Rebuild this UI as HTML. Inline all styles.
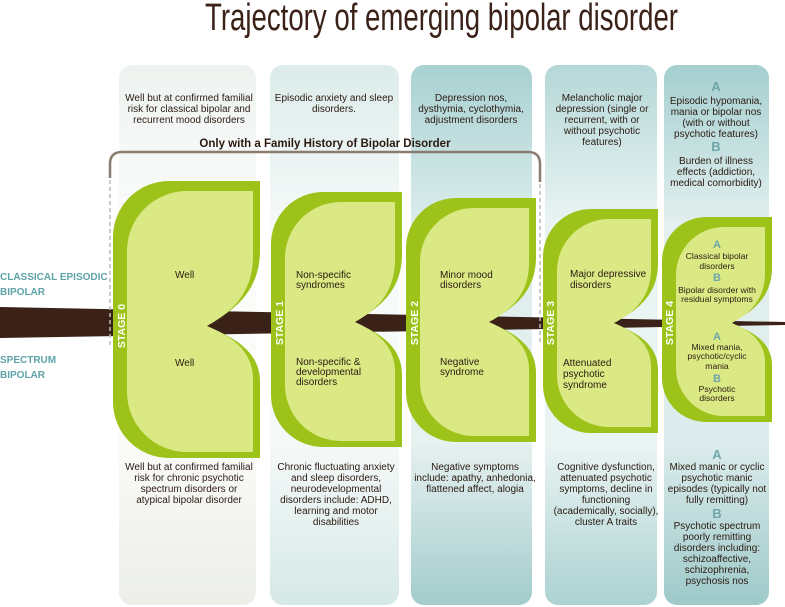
<!DOCTYPE html>
<html><head><meta charset="utf-8">
<style>
html,body{margin:0;padding:0;background:#fff;}
svg{display:block;}
text{font-family:"Liberation Sans Narrow","Liberation Sans",sans-serif;fill:#2a1a12;}
.t{font-size:10px;text-anchor:middle;}
.s{font-size:10px;}
.s4{font-size:8.6px;text-anchor:middle;}
.ab{font-family:"Liberation Sans",sans-serif;font-weight:bold;fill:#6fa6a8;text-anchor:middle;}
.lab{font-family:"Liberation Sans",sans-serif;font-weight:bold;fill:#5ea3a8;font-size:10px;}
.st{font-family:"Liberation Sans",sans-serif;font-weight:bold;fill:#fff;font-size:10.5px;text-anchor:middle;}
</style></head><body>
<svg id="sv" width="785" height="607" viewBox="0 0 785 607" xmlns="http://www.w3.org/2000/svg">
<defs>
<linearGradient id="g0" x1="0" y1="0" x2="0" y2="1"><stop offset="0" stop-color="#eef3f0"/><stop offset="0.3" stop-color="#fbfcfb"/><stop offset="0.7" stop-color="#fafbf9"/><stop offset="1" stop-color="#eceee8"/></linearGradient>
<linearGradient id="g1" x1="0" y1="0" x2="0" y2="1"><stop offset="0" stop-color="#dcecea"/><stop offset="0.3" stop-color="#f6faf9"/><stop offset="0.7" stop-color="#f5f9f8"/><stop offset="1" stop-color="#d6e9e7"/></linearGradient>
<linearGradient id="g2" x1="0" y1="0" x2="0" y2="1"><stop offset="0" stop-color="#a9d1d2"/><stop offset="0.3" stop-color="#dcedec"/><stop offset="0.7" stop-color="#e6f1f0"/><stop offset="1" stop-color="#a3cccc"/></linearGradient>
<linearGradient id="g3" x1="0" y1="0" x2="0" y2="1"><stop offset="0" stop-color="#b5d8d8"/><stop offset="0.3" stop-color="#eaf4f3"/><stop offset="0.7" stop-color="#eaf4f3"/><stop offset="1" stop-color="#acd2d2"/></linearGradient>
<linearGradient id="g4" x1="0" y1="0" x2="0" y2="1"><stop offset="0" stop-color="#a5cfd0"/><stop offset="0.3" stop-color="#e3f0ef"/><stop offset="0.7" stop-color="#dcecec"/><stop offset="1" stop-color="#9ec9c9"/></linearGradient>
</defs>
<text x="205" y="30" textLength="473" lengthAdjust="spacingAndGlyphs" style="font-size:38px;fill:#3a2218;">Trajectory of emerging bipolar disorder</text>

<rect x="119" y="65" width="137" height="540" rx="13" fill="url(#g0)"/>
<rect x="270" y="65" width="129" height="540" rx="13" fill="url(#g1)"/>
<rect x="411" y="65" width="121" height="540" rx="13" fill="url(#g2)"/>
<rect x="545" y="65" width="112" height="540" rx="13" fill="url(#g3)"/>
<rect x="664" y="65" width="105" height="540" rx="13" fill="url(#g4)"/>

<polygon points="0,307 785,322 785,325 0,338" fill="#3a2218"/>

<path d="M110,178 V164 Q110,152 122,152 H528 Q540,152 540,164 V182" fill="none" stroke="#8a7d70" stroke-width="2.5"/>
<line x1="110" y1="180" x2="110" y2="345" stroke="#bbb" stroke-width="1.5" stroke-dasharray="4,3"/>
<line x1="540" y1="184" x2="540" y2="345" stroke="#bbb" stroke-width="1.5" stroke-dasharray="4,3"/>
<text x="325" y="147" style="font-family:'Liberation Sans',sans-serif;font-weight:bold;font-size:11.5px;text-anchor:middle;">Only with a Family History of Bipolar Disorder</text>

<g id="shapes"></g>

<text class="lab" x="0" y="280">CLASSICAL EPISODIC</text>
<text class="lab" x="0" y="295">BIPOLAR</text>
<text class="lab" x="0" y="363">SPECTRUM</text>
<text class="lab" x="0" y="378">BIPOLAR</text>

<text class="st" transform="translate(125,326) rotate(-90)">STAGE 0</text>
<text class="st" transform="translate(283,323) rotate(-90)">STAGE 1</text>
<text class="st" transform="translate(418,323) rotate(-90)">STAGE 2</text>
<text class="st" transform="translate(554,323) rotate(-90)">STAGE 3</text>
<text class="st" transform="translate(673,323) rotate(-90)">STAGE 4</text>

<text class="t" x="189" y="101">Well but at confirmed familial</text>
<text class="t" x="189" y="112">risk for classical bipolar and</text>
<text class="t" x="189" y="123">recurrent mood disorders</text>
<text class="t" x="334" y="101">Episodic anxiety and sleep</text>
<text class="t" x="334" y="112">disorders.</text>
<text class="t" x="471" y="101">Depression nos,</text>
<text class="t" x="471" y="112">dysthymia, cyclothymia,</text>
<text class="t" x="471" y="123">adjustment disorders</text>
<text class="t" x="602" y="101">Melancholic major</text>
<text class="t" x="602" y="112">depression (single or</text>
<text class="t" x="602" y="123">recurrent, with or</text>
<text class="t" x="602" y="134">without psychotic</text>
<text class="t" x="602" y="145">features)</text>
<text class="ab" x="716" y="91" style="font-size:13px">A</text>
<text class="t" x="716" y="104">Episodic hypomania,</text>
<text class="t" x="716" y="115">mania or bipolar nos</text>
<text class="t" x="716" y="126">(with or without</text>
<text class="t" x="716" y="137">psychotic features)</text>
<text class="ab" x="716" y="151" style="font-size:13px">B</text>
<text class="t" x="716" y="164">Burden of illness</text>
<text class="t" x="716" y="175">effects (addiction,</text>
<text class="t" x="716" y="186">medical comorbidity)</text>

<text class="s" x="175" y="278">Well</text>
<text class="s" x="175" y="366">Well</text>
<text class="s" x="296" y="278">Non-specific</text>
<text class="s" x="296" y="288">syndromes</text>
<text class="s" x="296" y="365">Non-specific &amp;</text>
<text class="s" x="296" y="375">developmental</text>
<text class="s" x="296" y="385">disorders</text>
<text class="s" x="440" y="278">Minor mood</text>
<text class="s" x="440" y="288">disorders</text>
<text class="s" x="440" y="365">Negative</text>
<text class="s" x="440" y="375">syndrome</text>
<text class="s" x="570" y="277">Major depressive</text>
<text class="s" x="570" y="288">disorders</text>
<text class="s" x="563" y="366">Attenuated</text>
<text class="s" x="563" y="377">psychotic</text>
<text class="s" x="563" y="388">syndrome</text>
<text class="ab" x="717" y="248" style="font-size:11px">A</text>
<text class="s4" x="717" y="259">Classical bipolar</text>
<text class="s4" x="717" y="269">disorders</text>
<text class="ab" x="717" y="281" style="font-size:11px">B</text>
<text class="s4" x="717" y="293">Bipolar disorder with</text>
<text class="s4" x="717" y="302">residual symptoms</text>
<text class="ab" x="717" y="340" style="font-size:11px">A</text>
<text class="s4" x="717" y="350">Mixed mania,</text>
<text class="s4" x="717" y="359">psychotic/cyclic</text>
<text class="s4" x="717" y="369">mania</text>
<text class="ab" x="717" y="382" style="font-size:11px">B</text>
<text class="s4" x="717" y="392">Psychotic</text>
<text class="s4" x="717" y="401">disorders</text>

<text class="t" x="189" y="470">Well but at confirmed familial</text>
<text class="t" x="189" y="481">risk for chronic psychotic</text>
<text class="t" x="189" y="492">spectrum disorders or</text>
<text class="t" x="189" y="503">atypical bipolar disorder</text>
<text class="t" x="336" y="470">Chronic fluctuating anxiety</text>
<text class="t" x="336" y="481">and sleep disorders,</text>
<text class="t" x="336" y="492">neurodevelopmental</text>
<text class="t" x="336" y="503">disorders include: ADHD,</text>
<text class="t" x="336" y="514">learning and motor</text>
<text class="t" x="336" y="525">disabilities</text>
<text class="t" x="475" y="470">Negative symptoms</text>
<text class="t" x="475" y="481">include: apathy, anhedonia,</text>
<text class="t" x="475" y="492">flattened affect, alogia</text>
<text class="t" x="606" y="470">Cognitive dysfunction,</text>
<text class="t" x="606" y="481">attenuated psychotic</text>
<text class="t" x="606" y="492">symptoms, decline in</text>
<text class="t" x="606" y="503">functioning</text>
<text class="t" x="606" y="514">(academically, socially),</text>
<text class="t" x="606" y="525">cluster A traits</text>
<text class="ab" x="717" y="459" style="font-size:13px">A</text>
<text class="t" x="717" y="470">Mixed manic or cyclic</text>
<text class="t" x="717" y="481">psychotic manic</text>
<text class="t" x="717" y="492">episodes (typically not</text>
<text class="t" x="717" y="503">fully remitting)</text>
<text class="ab" x="717" y="518" style="font-size:13px">B</text>
<text class="t" x="717" y="529">Psychotic spectrum</text>
<text class="t" x="717" y="540">poorly remitting</text>
<text class="t" x="717" y="551">disorders including:</text>
<text class="t" x="717" y="562">schizoaffective,</text>
<text class="t" x="717" y="573">schizophrenia,</text>
<text class="t" x="717" y="584">psychosis nos</text>
</svg>
<script>
function P(L,R,T,B,nx,my,r){
  var y0=T+0.48*(my-T), y1=my+0.42*(B-my);
  var dx=R-nx, dt=my-y0, db=y1-my;
  return "M"+L+","+(B-r)+" V"+(T+r)+" A"+r+","+r+" 0 0 1 "+(L+r)+","+T+
   " H"+R+" V"+y0+
   " C"+R+","+(y0+0.55*dt)+" "+(nx+0.5*dx)+","+(my-0.18*dt)+" "+nx+","+my+
   " C"+(nx+0.5*dx)+","+(my+0.18*db)+" "+R+","+(y1-0.55*db)+" "+R+","+y1+
   " V"+B+" H"+(L+r)+" A"+r+","+r+" 0 0 1 "+L+","+(B-r)+" Z";
}
var st=[[113,260,181,458,205,326,56],[271,402,192,447,353,322,52],[406,536,198,442,487,322,50],[543,658,209,433,612,323,48],[662,772,217,422,730,323,44]];
var h="";
st.forEach(function(s){
  var L=s[0],R=s[1],T=s[2],B=s[3],nx=s[4],my=s[5],r=s[6];
  h+='<path d="'+P(L,R,T,B,nx,my,r)+'" fill="#9dc31a"/>';
  h+='<path d="'+P(L+14,R-7,T+10,B-6,nx+2,my,r+4)+'" fill="#dbe985"/>';
});
document.getElementById("shapes").innerHTML=h;
</script>
</body></html>
